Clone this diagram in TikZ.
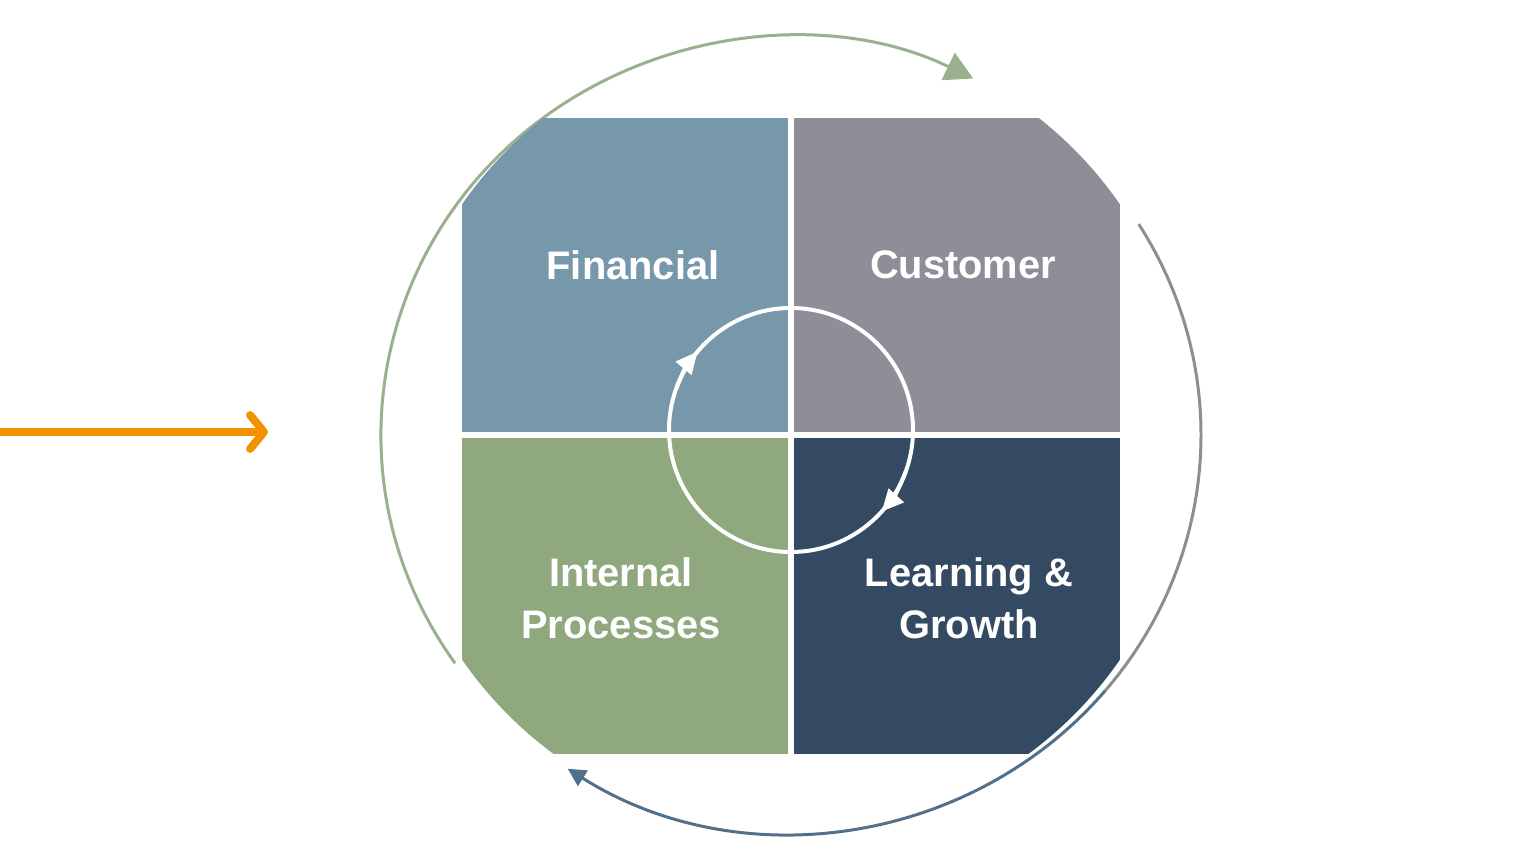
\documentclass[tikz,border=0pt]{standalone}
\usepackage{fontspec}
\setmainfont{Liberation Sans}
\usetikzlibrary{arrows.meta}
\definecolor{cfin}{RGB}{119,152,170}
\definecolor{ccus}{RGB}{142,142,153}
\definecolor{cint}{RGB}{143,168,126}
\definecolor{clea}{RGB}{52,73,98}
\definecolor{ogreen}{RGB}{155,176,142}
\definecolor{ogray}{RGB}{138,143,150}
\definecolor{oblue}{RGB}{82,112,138}
\definecolor{corange}{RGB}{243,146,0}
\tikzset{
  lbl/.style={text=white, font=\bfseries\fontsize{40}{52}\selectfont, align=center},
  outer/.style={line width=3},
  inner/.style={draw=white, line width=4}
}
\begin{document}
\begin{tikzpicture}[x=1bp,y=1bp]
\useasboundingbox (0,0) rectangle (1536,864);
\fill[white] (0,0) rectangle (1536,864);
% outer arcs
\draw[outer, ogreen, -{Triangle[length=28,width=30]}] (455.1,200.7) arc[start angle=215, end angle=63.6, x radius=410, y radius=398];
\draw[outer, ogray] (1138.7,639.9) arc[start angle=32, end angle=-40, x radius=410, y radius=398];
\draw[outer, oblue, -{Triangle[length=18,width=18]}] (1105.1,173.2) arc[start angle=-40, end angle=-123, x radius=410, y radius=398];
% quadrants
\begin{scope}
\clip (791,432) circle (400);
\fill[cfin] (462,432) rectangle (788,746);
\fill[ccus] (794,432) rectangle (1120,746);
\fill[cint] (462,110) rectangle (788,426);
\fill[clea] (794,110) rectangle (1120,426);
\end{scope}
% inner cycle
\draw[inner] (791,434) circle (122);
\draw[inner, -{Triangle[length=22,width=20]}] (791,434) ++(160:122) arc[start angle=160, end angle=140, radius=122];
\draw[inner, -{Triangle[length=22,width=20]}] (791,434) ++(-20:122) arc[start angle=-20, end angle=-42, radius=122];
% labels
\node[lbl] (fin) at (633,599) {Financial};
\node[lbl] (cus) at (963,599) {Customer};
\node[lbl] (int) at (621,266) {Internal\\Processes};
\node[lbl] (lea) at (969,266) {Learning \&\\Growth};
% orange arrow
\coordinate (os) at (0,432);
\coordinate (oe) at (268,432);
\draw[corange, line width=8, line cap=round, -{Straight Barb[length=14,width=34,round]}] (os) -- (oe);
\end{tikzpicture}
\end{document}
